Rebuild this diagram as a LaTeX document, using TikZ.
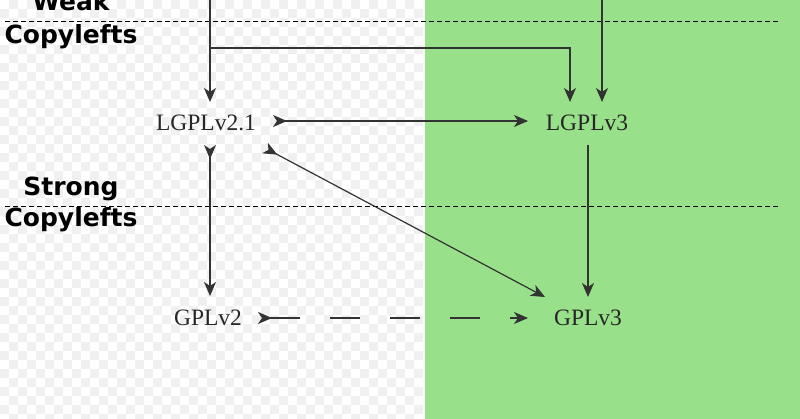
\documentclass[tikz,border=0pt]{standalone}
\usepackage{fontspec}
\newfontfamily\lblfont{DejaVu Sans}
\setmainfont{Liberation Serif}
\usetikzlibrary{arrows.meta}
\definecolor{grn}{HTML}{98E08A}
\definecolor{chk}{HTML}{F0F0F0}
\begin{document}
\begin{tikzpicture}[x=1pt,y=-1pt,
  lic/.style={font=\fontsize{23.5}{24}\selectfont, text=black!85, inner sep=2pt},
  grp/.style={font=\lblfont\bfseries\fontsize{25}{25}\selectfont, anchor=center},
  sep/.style={dashed, dash pattern=on 5pt off 3pt, line width=1pt},
  conn/.style={line width=1.2pt, draw=black!80, -{Stealth[length=14pt,width=12pt,inset=4pt]}},
  both/.style={conn, {Stealth[length=14pt,width=12pt,inset=4pt,reversed]}-{Stealth[length=14pt,width=12pt,inset=4pt]}}]
\useasboundingbox (0,0) rectangle (800,419);
\foreach \i in {0,...,46} \foreach \j in {0,...,46} {
  \ifodd\numexpr\i+\j\relax \fill[chk] (\i*9,\j*9) rectangle ++(9,9);\fi }
\fill[grn] (425,0) rectangle (800,419);
\draw[sep] (5,22) -- (780,22);
\draw[sep] (5,207) -- (780,207);
\node[grp] (weak) at (71,1) {Weak};
\node[grp] (wc) at (71,37) {Copylefts};
\node[grp] (strong) at (71,189) {Strong};
\node[grp] (sc) at (71,220) {Copylefts};
\node[lic] (l21) at (206,123) {LGPLv2.1};
\node[lic] (l3) at (587,123) {LGPLv3};
\node[lic] (g2) at (208,318) {GPLv2};
\node[lic] (g3) at (588,318) {GPLv3};
\coordinate (t1) at (210,0);
\coordinate (b1) at (210,48);
\coordinate (t2) at (602,0);
\draw[conn] (t1) -- (210,102);
\draw[conn] (b1) -| (570,102);
\draw[conn] (t2) -- (602,102);
\draw[both] (273,121) -- (528,121);
\draw[both] (210,145) -- (210,296);
\draw[both] (265,148) -- (545,297);
\draw[conn] (588,145) -- (588,297);
\draw[both, dash pattern=on 30pt off 30pt, dash phase=0pt] (258,318) -- (528,318);
\end{tikzpicture}
\end{document}
